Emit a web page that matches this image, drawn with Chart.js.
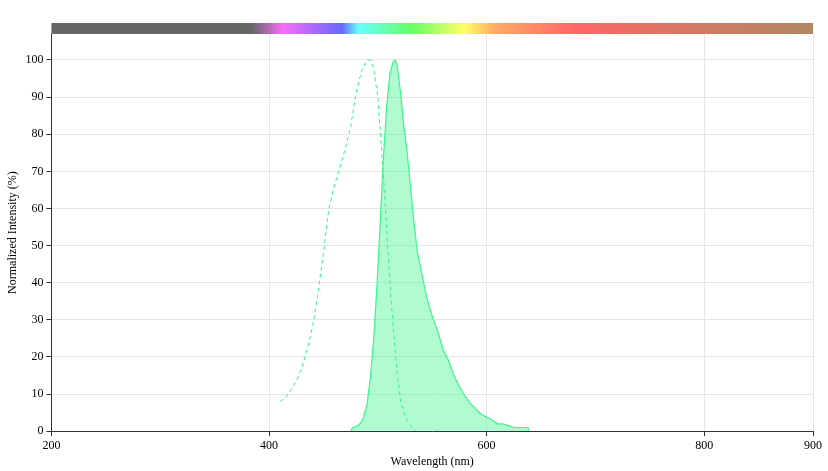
<!DOCTYPE html>
<html><head><meta charset="utf-8">
<script src="https://cdn.jsdelivr.net/npm/chart.js@4"></script>
<style>html,body{margin:0;padding:0;background:#fff}#w{width:828px;height:471px}</style>
</head><body><div id="w"><canvas id="c"></canvas></div>
<script>
const excWl=[410,415,420,425,430,435,440,445,450,455,460,465,470,475,480,485,490,493,496,500,503,506,509,512,515,518,521,525,530,535];
const excVal=[8,9,11,13.5,17,22,28,37,48,60,66,71,76,82,91,97,100,100,98,90,78,65,50,36,25,15,8,4,1.5,0];
const emWl=[475,477,482,486,490,493,496,499,502,505,508,511,514,516,518,521,524,527,530,533,536,540,545,550,555,560,565,570,575,580,585,590,595,600,605,610,615,620,625,630,638,638.5];
const emVal=[0,1,1.5,3,7,14,24,38,55,73,87,96,99.5,100,98,91,82,75,66,57,49,43,36,31,27,22,19,15,12,9.5,7.5,6,4.5,3.8,3,2,2,1.5,1,1,1,0];
const xTicks=[200,400,600,800,900];
const yTicks=[0,10,20,30,40,50,60,70,80,90,100];
const spectrumStops=[[200,'#666666'],[384,'#666666'],[413,'#f66ff6'],[467,'#6666ff'],[482,'#66ffff'],[530,'#66ff66'],[579,'#ffff66'],[608,'#ffaa66'],[681,'#ff6666'],[798,'#d07a66'],[900,'#b08860']];
const bar={id:'bar',afterDraw(ch){const x=ch.scales.x,a=ch.chartArea,c=ch.ctx;const x0=x.getPixelForValue(200),x1=x.getPixelForValue(900);const g=c.createLinearGradient(x0,0,x1,0);spectrumStops.forEach(s=>g.addColorStop((s[0]-200)/700,s[1]));c.save();c.fillStyle=g;c.fillRect(x0,23,x1-x0,11);c.restore();}};
new Chart(document.getElementById('c'),{type:'scatter',data:{datasets:[
{data:excWl.map((w,i)=>({x:w,y:excVal[i]})),showLine:true,borderColor:'#3df58a',borderWidth:1,borderDash:[4,3],pointRadius:0,fill:false},
{data:emWl.map((w,i)=>({x:w,y:emVal[i]})),showLine:true,borderColor:'#3df58a',backgroundColor:'rgba(61,245,138,0.4)',borderWidth:1.2,pointRadius:0,fill:'origin'}]},
options:{responsive:true,maintainAspectRatio:false,animation:false,layout:{padding:{top:34,right:15,left:4,bottom:2}},
plugins:{legend:{display:false},tooltip:{enabled:false}},
scales:{x:{type:'linear',min:200,max:900,afterBuildTicks(s){s.ticks=xTicks.map(v=>({value:v}));},grid:{color:'#e6e6e6',drawTicks:true,tickLength:5,tickColor:'#333'},border:{color:'#333'},ticks:{color:'#000',font:{family:'Liberation Serif',size:12},maxRotation:0,padding:2},title:{display:true,text:'Wavelength (nm)',color:'#000',font:{family:'Liberation Serif',size:12},padding:0}},
y:{min:0,max:107,afterBuildTicks(s){s.ticks=yTicks.map(v=>({value:v}));},grid:{color:'#e6e6e6',tickLength:5,tickColor:'#333'},border:{color:'#333'},ticks:{color:'#000',font:{family:'Liberation Serif',size:12},padding:3},title:{display:true,text:'Normalized Intensity (%)',color:'#000',font:{family:'Liberation Serif',size:12},padding:2}}}},
plugins:[bar]});
</script></body></html>
